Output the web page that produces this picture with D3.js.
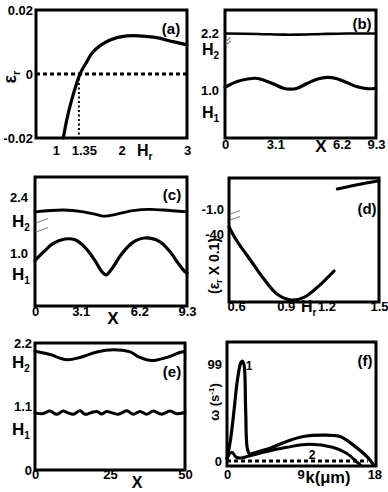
<!DOCTYPE html>
<html>
<head>
<meta charset="utf-8">
<script src="https://cdn.jsdelivr.net/npm/d3@7"></script>
<style>
  body { margin: 0; background: #fff; }
  svg text { font-family: "Liberation Sans", Arial, sans-serif; font-weight: bold; fill: #000; }
</style>
</head>
<body>
<svg width="388" height="492"></svg>
<script>
// (a) epsilon_r vs H_r
const aHr = [1.112, 1.164, 1.24, 1.367, 1.47, 1.57, 1.825, 2.08, 2.49, 2.79, 3.0];
const aEps = [-0.02, -0.0144, -0.0081, 0, 0.0038, 0.007, 0.0106, 0.0119, 0.0115, 0.0101, 0.0091];
const aXTicks = [1, 1.35, 2, 3];
const aYTicks = [0.02, 0, -0.02];
const aCross = 1.35;

// (b) H1, H2 vs X
const bX = [0, 0.75, 1.4, 1.9, 2.4, 3.0, 3.6, 4.05, 4.45, 5.05, 5.7, 6.3, 6.9, 7.5, 8.15, 8.75, 9.3];
const bH1 = [1.07, 1.19, 1.245, 1.26, 1.22, 1.14, 1.05, 1.03, 1.05, 1.15, 1.245, 1.28, 1.25, 1.17, 1.08, 1.04, 1.05];
const bX2 = [0, 2, 3.6, 4.4, 6, 7.5, 9.3];
const bH2 = [2.205, 2.195, 2.18, 2.18, 2.195, 2.205, 2.205];
const bYTicks = [2.2, 1.0];

// (c)
const cX1 = [0, 0.51, 1.12, 1.84, 2.45, 3.06, 3.67, 4.08, 4.34, 4.69, 5.3, 6.01, 6.73, 7.65, 8.26, 8.77, 9.18, 9.3];
const cH1 = [0.81, 1.02, 1.24, 1.35, 1.33, 1.14, 0.81, 0.54, 0.45, 0.6, 0.975, 1.27, 1.375, 1.28, 1.03, 0.74, 0.53, 0.5];
const cX2 = [0, 1.73, 2.96, 3.77, 4.28, 4.89, 6.01, 7.04, 7.85, 9.3];
const cH2 = [2.03, 2.075, 2.03, 1.96, 1.92, 1.96, 2.06, 2.09, 2.075, 2.03];
const cYTicks = [2.4, 1.0];
const xTicks93 = [0, 3.1, 6.2, 9.3];

// (d) (eps_r x 0.1) vs H_r, broken axis
const dHrLow = [0.555, 0.605, 0.694, 0.775, 0.857, 0.946, 1.027, 1.111, 1.217];
const dEpsLow = [-36.5, -43.5, -53.5, -62.5, -70, -73, -71.7, -66.7, -58.5];
const dHrHigh = [1.237, 1.363, 1.5];
const dEpsHigh = [-0.355, -0.216, -0.087];
const dXTicks = [0.6, 0.9, 1.2, 1.5];
const dYTicks = [-1.0, -40];

// (e)
const eX1 = [0, 2.5, 5, 7.2, 9.4, 11, 12.8, 15, 16.7, 18.5, 20.6, 22.2, 23.9, 26, 27.8, 30.6, 32.8, 35, 37.2, 39.4, 42.2, 45, 47.2, 50];
const eH1 = [0.99, 0.975, 1.02, 0.965, 1.02, 0.99, 0.965, 1.025, 0.965, 0.99, 1.015, 0.97, 1.015, 0.985, 0.965, 1.025, 0.965, 1.015, 0.965, 1.02, 0.965, 1.02, 0.975, 0.995];
const eX2 = [0, 5, 10.6, 15, 20.6, 26.1, 31.7, 35, 38.9, 43.9, 48.9, 50];
const eH2 = [2.057, 2.0, 1.91, 1.95, 2.045, 2.085, 2.045, 1.95, 1.895, 1.95, 2.045, 2.045];
const eXTicks = [0, 25, 50];
const eYTicks = [2.2, 1.1, 0];

// (f) omega vs k
const fK1 = [0, 0.45, 0.85, 1.26, 1.67, 1.87, 2.08, 2.28, 2.5, 2.8, 3.2, 5.25, 7.3, 9.3, 11.7, 13.8, 15.4, 17.1, 17.9];
const fW1 = [2, 23, 51, 82, 100, 102, 98, 52, 12, 7, 8, 13, 20, 25, 26.5, 25, 16.5, 4.4, -4];
const fK2 = [0, 0.6, 1.1, 1.7, 2.6, 4, 7.3, 10.1, 12.9, 14.6, 16, 16.3];
const fW2 = [3, 9, 4, 3, 5, 8, 14, 17, 14, 8, -2, -4];
const fXTicks = [0, 9, 18];
const fYTicks = [99, 0];

const svg = d3.select('svg');
const FONT = '"Liberation Sans", Arial, sans-serif';

const xA = d3.scaleLinear().domain([0.695, 3]).range([36, 187]);
const yA = d3.scaleLinear().domain([-0.02, 0.02]).range([138, 10]);
const xB = d3.scaleLinear().domain([0, 9.3]).range([225, 376]);
const yB = d3.scaleLinear().domain([0, 2.7]).range([138, 10]);
const xC = d3.scaleLinear().domain([0, 9.3]).range([35, 187]);
const yC = d3.scaleLinear().domain([-0.325, 2.9]).range([306, 177]);
const xD = d3.scaleLinear().domain([0.555, 1.5]).range([229, 379]);
const yD = d3.scaleLinear().domain([-74, -36, -1.3, 0]).range([302, 226, 218.3, 178]);
const xE = d3.scaleLinear().domain([0, 50]).range([35, 185]);
const yE = d3.scaleLinear().domain([0, 2.2]).range([470, 343]);
const xF = d3.scaleLinear().domain([0, 18.2]).range([227, 376]);
const yF = d3.scaleLinear().domain([-5.1, 121.5]).range([466, 342]);

function frame(x, y) {
  const [x0, x1] = x.range();
  const ys = y.range();
  const y0 = d3.min(ys), y1 = d3.max(ys);
  svg.append('rect')
    .attr('x', x0).attr('y', y0)
    .attr('width', x1 - x0).attr('height', y1 - y0)
    .attr('fill', 'none').attr('stroke', '#000').attr('stroke-width', 3);
}

function styleAxis(g) {
  g.select('.domain').remove();
  g.attr('font-size', null).attr('font-family', null);
  g.selectAll('text')
    .attr('font-size', 13).attr('font-family', FONT).attr('font-weight', 'bold');
}

// shift: optional map of tick value -> horizontal nudge of its label
function xAxis(x, y, ticks, fmt, pad, shift) {
  const g = svg.append('g')
    .attr('transform', `translate(0,${d3.max(y.range())})`)
    .call(d3.axisBottom(x).tickValues(ticks).tickFormat(fmt).tickSize(0).tickPadding(pad));
  styleAxis(g);
  if (shift) g.selectAll('text').attr('dx', d => shift[d] || 0);
  return g;
}

function yAxis(x, y, ticks, fmt, pad) {
  const g = svg.append('g')
    .attr('transform', `translate(${x.range()[0]},0)`)
    .call(d3.axisLeft(y).tickValues(ticks).tickFormat(fmt).tickSize(0).tickPadding(pad));
  styleAxis(g);
  return g;
}

function curve(x, y, xs, ys, w) {
  svg.append('path')
    .datum(xs.map((v, i) => [v, ys[i]]))
    .attr('d', d3.line().x(d => x(d[0])).y(d => y(d[1])).curve(d3.curveCatmullRom))
    .attr('fill', 'none').attr('stroke', '#000')
    .attr('stroke-width', w || 3)
    .attr('stroke-linejoin', 'round').attr('stroke-linecap', 'round');
}

function breakMarks(x0, yBase, offsets, len, rise) {
  offsets.forEach((o) => {
    svg.append('line')
      .attr('x1', x0 + 1).attr('y1', yBase + o)
      .attr('x2', x0 + 1 + len).attr('y2', yBase + o - rise)
      .attr('stroke', '#8a8a8a').attr('stroke-width', 1.3);
  });
}

function subLabel(x, y, main, sub, size, subSize) {
  const t = svg.append('text').attr('x', x).attr('y', y).attr('font-size', size);
  t.append('tspan').text(main);
  t.append('tspan').attr('font-size', subSize).attr('dy', size * 0.25).text(sub);
  return t;
}

function plain(x, y, txt, size, anchor) {
  return svg.append('text').attr('x', x).attr('y', y)
    .attr('font-size', size).attr('text-anchor', anchor || 'middle').text(txt);
}

const fix1 = d => (d === 0 ? '0' : d.toFixed(1));

// ---- (a)
frame(xA, yA);
curve(xA, yA, aHr, aEps, 3.2);
svg.append('line')
  .attr('x1', xA.range()[0]).attr('x2', xA.range()[1])
  .attr('y1', yA(0)).attr('y2', yA(0))
  .attr('stroke', '#000').attr('stroke-width', 3).attr('stroke-dasharray', '4,3');
svg.append('line')
  .attr('x1', xA(aCross)).attr('x2', xA(aCross))
  .attr('y1', yA(0)).attr('y2', yA(-0.02))
  .attr('stroke', '#000').attr('stroke-width', 2).attr('stroke-dasharray', '2,2.5');
xAxis(xA, yA, aXTicks, d => (d === 1.35 ? '1.35' : String(d)), 8, { 1.35: 5 });
yAxis(xA, yA, aYTicks, d => (d === 0 ? '0' : d.toFixed(2)), 3);
subLabel(137, 156, 'H', 'r', 16, 10);
plain(171, 34, '(a)', 15);
svg.append('g').attr('transform', 'translate(16,77) rotate(-90)')
  .append('text').attr('text-anchor', 'middle').attr('font-size', 18)
  .call((t) => {
    t.append('tspan').text('ε');
    t.append('tspan').attr('font-size', 11).attr('dy', 4).text('r');
  });

// ---- (b)
frame(xB, yB);
curve(xB, yB, bX2, bH2, 2.6);
curve(xB, yB, bX, bH1, 3.2);
xAxis(xB, yB, xTicks93, fix1, 2, { 6.2: 16 });
yAxis(xB, yB, bYTicks, d => d.toFixed(1), 6);
breakMarks(xB.range()[0], yB(2.2), [8, 11.5], 4.5, 4.5);
subLabel(202, 55, 'H', '2', 16, 10);
subLabel(202, 118, 'H', '1', 16, 10);
plain(321, 152, 'X', 17);
plain(362, 29, '(b)', 15);

// ---- (c)
frame(xC, yC);
curve(xC, yC, cX2, cH2, 2.8);
curve(xC, yC, cX1, cH1, 3.2);
xAxis(xC, yC, xTicks93, fix1, 1, { 3.1: -5, 6.2: 3 });
yAxis(xC, yC, cYTicks, d => d.toFixed(1), 7);
breakMarks(xC.range()[0], yC(2.4), [26, 35], 12, 4.5);
subLabel(12, 227, 'H', '2', 17, 10);
subLabel(12, 280, 'H', '1', 17, 10);
plain(113, 324, 'X', 17);
plain(172, 200, '(c)', 15);

// ---- (d)
frame(xD, yD);
curve(xD, yD, dHrLow, dEpsLow, 3.2);
curve(xD, yD, dHrHigh, dEpsHigh, 3);
xAxis(xD, yD, dXTicks, d => d.toFixed(1), 0, { 0.9: 2, 1.2: -5 });
yAxis(xD, yD, dYTicks, d => (d === -40 ? '-40' : d.toFixed(1)), 5);
breakMarks(xD.range()[0], yD(-1.0), [5, 11], 10, 3.5);
subLabel(301, 312, 'H', 'r', 16, 10);
plain(367, 214, '(d)', 15);
svg.append('g').attr('transform', 'translate(219,266) rotate(-90)')
  .append('text').attr('text-anchor', 'middle').attr('font-size', 14)
  .call((t) => {
    t.append('tspan').text('(ε');
    t.append('tspan').attr('font-size', 9).attr('dy', 3).text('r');
    t.append('tspan').attr('dy', -3).text(' X 0.1)');
  });

// ---- (e)
frame(xE, yE);
curve(xE, yE, eX2, eH2, 3);
curve(xE, yE, eX1, eH1, 3);
xAxis(xE, yE, eXTicks, d => String(d), 0);
yAxis(xE, yE, eYTicks, d => (d === 0 ? '0' : d.toFixed(1)), 3);
subLabel(12, 368, 'H', '2', 17, 10);
subLabel(12, 435, 'H', '1', 17, 10);
plain(137, 488, 'X', 16);
plain(172, 377, '(e)', 15);

// ---- (f)
frame(xF, yF);
svg.append('line')
  .attr('x1', xF(0)).attr('x2', xF(17.2))
  .attr('y1', yF(0)).attr('y2', yF(0))
  .attr('stroke', '#000').attr('stroke-width', 3).attr('stroke-dasharray', '4,3');
curve(xF, yF, fK2, fW2, 3);
curve(xF, yF, fK1, fW1, 3.2);
xAxis(xF, yF, fXTicks, d => String(d), 4);
yAxis(xF, yF, fYTicks, d => String(d), 5);
plain(xF(2.7), yF(93), '1', 12);
plain(xF(10.4), yF(2), '2', 12);
plain(328, 483, 'k(μm)', 16.5);
plain(365, 366, '(f)', 15);
svg.append('g').attr('transform', 'translate(219,402) rotate(-90)')
  .append('text').attr('text-anchor', 'middle').attr('font-size', 13)
  .call((t) => {
    t.append('tspan').text('ω (s');
    t.append('tspan').attr('font-size', 8).attr('dy', -5).text('-1');
    t.append('tspan').attr('dy', 5).text(')');
  });
</script>
</body>
</html>
